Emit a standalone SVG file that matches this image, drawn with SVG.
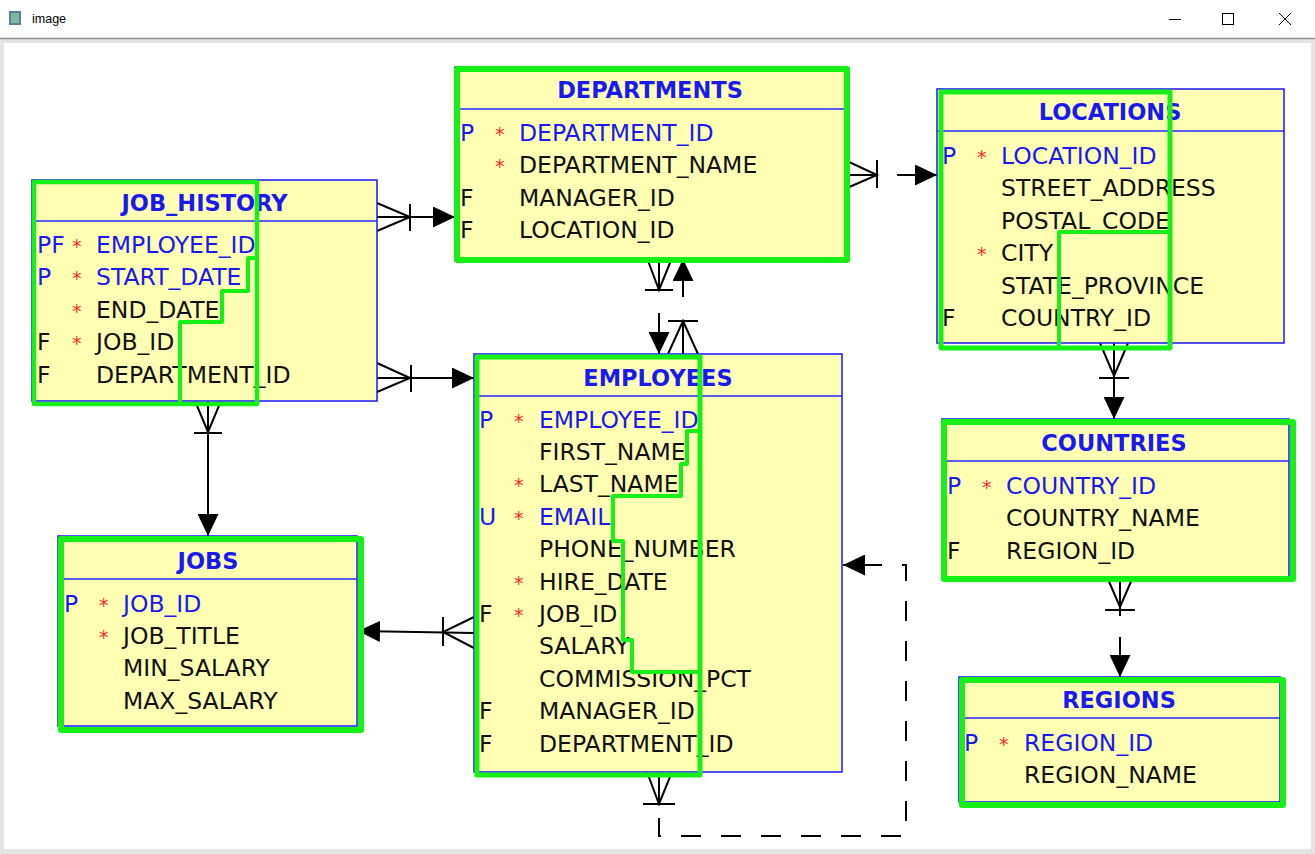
<svg xmlns="http://www.w3.org/2000/svg" width="1315" height="854" viewBox="0 0 1315 854">
<style>
.tbl{fill:#ffffb4;stroke:#2424ff;stroke-width:1.6}
.hl{stroke:#2424ff;stroke-width:1.6}
.ttl{font-family:"DejaVu Sans",sans-serif;font-weight:bold;font-size:22.5px;fill:#1a1af0;text-anchor:middle}
.r{font-family:"DejaVu Sans",sans-serif;font-size:23.5px;fill:#111}
.pk{fill:#1a1af0}
.st{font-family:"DejaVu Sans",sans-serif;font-size:19px;fill:#ff2a2a}
.g{fill:none;stroke:#16f016;stroke-linejoin:round}
.c{fill:none;stroke:#000;stroke-width:2}
.win{font-family:"Liberation Sans",sans-serif;font-size:12.5px;fill:#000}
</style>
<defs>
<marker id="ah" markerUnits="userSpaceOnUse" markerWidth="22" markerHeight="21" refX="22" refY="10.5" orient="auto">
<path d="M0,0 L22,10.5 L0,21 z" fill="#000"/>
</marker>
</defs>
<rect width="1315" height="854" fill="#fff"/>
<g id="window">
<rect x="0" y="39" width="1315" height="815" fill="#e4e4e4"/>
<line x1="0" y1="38.5" x2="1315" y2="38.5" stroke="#8f8f8f" stroke-width="1.5"/>
<rect x="4" y="43" width="1307" height="806" fill="#fff"/>
<rect x="9" y="11" width="12" height="14" fill="#5a7fa0"/>
<rect x="11" y="13" width="8" height="10" fill="#7fb89a"/>
<text class="win" x="32" y="23">image</text>
<line x1="1169" y1="19.5" x2="1181" y2="19.5" stroke="#000" stroke-width="1"/>
<rect x="1222.5" y="13.5" width="11" height="11" fill="none" stroke="#000" stroke-width="1"/>
<path d="M1279,13 L1291,25 M1291,13 L1279,25" stroke="#000" stroke-width="1" fill="none"/>
</g>
<g id="connectors">
<path class="c" d="M377,217 H455" marker-end="url(#ah)"/>
<path class="c" d="M377,203 L410,217 L377,231 M410,204 V231"/>
<path class="c" d="M377,378 H474" marker-end="url(#ah)"/>
<path class="c" d="M377,363 L410,378 L377,392 M411,365 V392"/>
<path class="c" d="M208,401 V536" marker-end="url(#ah)"/>
<path class="c" d="M195,401 L208,432 L221,401 M194,433 H222"/>
<path class="c" d="M647,258 L659,290 L672,258 M659,258 V290 M645,290 H673"/>
<path class="c" d="M659,313 V354" marker-end="url(#ah)"/>
<path class="c" d="M683,297 V259" marker-end="url(#ah)"/>
<path class="c" d="M668,354 L683,321 L698,354 M683,321 V354 M668,321 H698"/>
<path class="c" d="M847,161 L877,175 L847,188 M847,175 H877 M877,160 V188"/>
<path class="c" d="M897,175 H937" marker-end="url(#ah)"/>
<path class="c" d="M1100,343 L1114,376 L1128,343 M1099,378 H1129"/>
<path class="c" d="M1114,343 V419" marker-end="url(#ah)"/>
<path class="c" d="M1107,577 L1120,607 L1133,577 M1120,577 V616 M1105,610 H1135"/>
<path class="c" d="M1120,637 V677" marker-end="url(#ah)"/>
<path class="c" d="M474,633 L358,631" marker-end="url(#ah)"/>
<path class="c" d="M474,617 L443,632 L474,648 M443,617 V646"/>
<path class="c" d="M647,772 L659,804 L672,772 M659,772 V804 M643,804 H675"/>
<path class="c" d="M862,565 H906 V836 H659 V818" stroke-dasharray="20 20"/>
<path class="c" d="M862,565 L843,565" marker-end="url(#ah)"/>
</g>
<g id="job_history">
<rect class="tbl" x="32" y="180" width="345" height="221"/>
<line class="hl" x1="32" y1="221" x2="377" y2="221"/>
<text class="ttl" x="204.5" y="211">JOB_HISTORY</text>
<text class="r pk" x="37" y="252.5">PF</text><text class="st" x="72" y="252.5">*</text><text class="r pk" x="96" y="252.5">EMPLOYEE_ID</text>
<text class="r pk" x="37" y="285">P</text><text class="st" x="72" y="285">*</text><text class="r pk" x="96" y="285">START_DATE</text>
<text class="st" x="72" y="317.5">*</text><text class="r" x="96" y="317.5">END_DATE</text>
<text class="r" x="37" y="350">F</text><text class="st" x="72" y="350">*</text><text class="r" x="96" y="350">JOB_ID</text>
<text class="r" x="37" y="382.5">F</text><text class="r" x="96" y="382.5">DEPARTMENT_ID</text>
</g>
<g id="departments">
<rect class="tbl" x="455" y="67" width="390" height="191"/>
<line class="hl" x1="455" y1="109" x2="845" y2="109"/>
<text class="ttl" x="650" y="98">DEPARTMENTS</text>
<text class="r pk" x="460" y="140.5">P</text><text class="st" x="495" y="140.5">*</text><text class="r pk" x="519" y="140.5">DEPARTMENT_ID</text>
<text class="st" x="495" y="173">*</text><text class="r" x="519" y="173">DEPARTMENT_NAME</text>
<text class="r" x="460" y="205.5">F</text><text class="r" x="519" y="205.5">MANAGER_ID</text>
<text class="r" x="460" y="238">F</text><text class="r" x="519" y="238">LOCATION_ID</text>
</g>
<g id="locations">
<rect class="tbl" x="937" y="89" width="347" height="254"/>
<line class="hl" x1="937" y1="131" x2="1284" y2="131"/>
<text class="ttl" x="1110" y="120">LOCATIONS</text>
<text class="r pk" x="942" y="163.5">P</text><text class="st" x="977" y="163.5">*</text><text class="r pk" x="1001" y="163.5">LOCATION_ID</text>
<text class="r" x="1001" y="196">STREET_ADDRESS</text>
<text class="r" x="1001" y="228.5">POSTAL_CODE</text>
<text class="st" x="977" y="261">*</text><text class="r" x="1001" y="261">CITY</text>
<text class="r" x="1001" y="293.5">STATE_PROVINCE</text>
<text class="r" x="942" y="326">F</text><text class="r" x="1001" y="326">COUNTRY_ID</text>
</g>
<g id="employees">
<rect class="tbl" x="474" y="354" width="368" height="418"/>
<line class="hl" x1="474" y1="396" x2="842" y2="396"/>
<text class="ttl" x="658" y="386">EMPLOYEES</text>
<text class="r pk" x="479" y="427.5">P</text><text class="st" x="514" y="427.5">*</text><text class="r pk" x="539" y="427.5">EMPLOYEE_ID</text>
<text class="r" x="539" y="460">FIRST_NAME</text>
<text class="st" x="514" y="492.3">*</text><text class="r" x="539" y="492.3">LAST_NAME</text>
<text class="r pk" x="479" y="524.7">U</text><text class="st" x="514" y="524.7">*</text><text class="r pk" x="539" y="524.7">EMAIL</text>
<text class="r" x="539" y="557.1">PHONE_NUMBER</text>
<text class="st" x="514" y="589.5">*</text><text class="r" x="539" y="589.5">HIRE_DATE</text>
<text class="r" x="479" y="621.9">F</text><text class="st" x="514" y="621.9">*</text><text class="r" x="539" y="621.9">JOB_ID</text>
<text class="r" x="539" y="654.3">SALARY</text>
<text class="r" x="539" y="686.7">COMMISSION_PCT</text>
<text class="r" x="479" y="719.1">F</text><text class="r" x="539" y="719.1">MANAGER_ID</text>
<text class="r" x="479" y="751.5">F</text><text class="r" x="539" y="751.5">DEPARTMENT_ID</text>
</g>
<g id="jobs">
<rect class="tbl" x="58" y="536" width="299" height="190"/>
<line class="hl" x1="58" y1="579" x2="357" y2="579"/>
<text class="ttl" x="208" y="569">JOBS</text>
<text class="r pk" x="64" y="611.5">P</text><text class="st" x="99" y="611.5">*</text><text class="r pk" x="123" y="611.5">JOB_ID</text>
<text class="st" x="99" y="643.5">*</text><text class="r" x="123" y="643.5">JOB_TITLE</text>
<text class="r" x="123" y="676">MIN_SALARY</text>
<text class="r" x="123" y="708.5">MAX_SALARY</text>
</g>
<g id="countries">
<rect class="tbl" x="942" y="419" width="347" height="158"/>
<line class="hl" x1="942" y1="461" x2="1289" y2="461"/>
<text class="ttl" x="1114" y="451">COUNTRIES</text>
<text class="r pk" x="947" y="493.5">P</text><text class="st" x="982" y="493.5">*</text><text class="r pk" x="1006" y="493.5">COUNTRY_ID</text>
<text class="r" x="1006" y="526">COUNTRY_NAME</text>
<text class="r" x="947" y="558.5">F</text><text class="r" x="1006" y="558.5">REGION_ID</text>
</g>
<g id="regions">
<rect class="tbl" x="959" y="677" width="321" height="125"/>
<line class="hl" x1="959" y1="718" x2="1280" y2="718"/>
<text class="ttl" x="1119" y="708">REGIONS</text>
<text class="r pk" x="964" y="750.5">P</text><text class="st" x="999" y="750.5">*</text><text class="r pk" x="1024" y="750.5">REGION_ID</text>
<text class="r" x="1024" y="782.5">REGION_NAME</text>
</g>
<g id="highlights">
<rect class="g" x="34" y="182" width="223" height="222" stroke-width="4.5"/>
<polyline class="g" points="257,258 248,258 248,291 222,291 222,322 180,322 180,404" stroke-width="4"/>
<rect class="g" x="457" y="69" width="390" height="191" stroke-width="6"/>
<rect class="g" x="941" y="92" width="229" height="256" stroke-width="5"/>
<rect class="g" x="1059" y="232" width="111" height="116" stroke-width="4"/>
<rect class="g" x="477" y="357" width="223" height="418" stroke-width="5"/>
<polyline class="g" points="700,431 687,431 687,464 681,464 681,496 613,496 613,541 623,541 623,640 632,640 632,672 700,672" stroke-width="4"/>
<rect class="g" x="61" y="539" width="300" height="191" stroke-width="6"/>
<rect class="g" x="944" y="422" width="349" height="157" stroke-width="6"/>
<rect class="g" x="962" y="680" width="321" height="125" stroke-width="6"/>
</g>
</svg>
